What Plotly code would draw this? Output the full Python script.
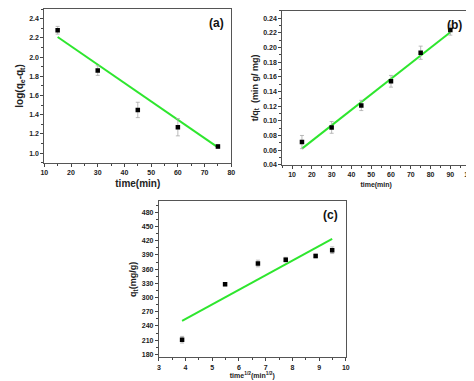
import plotly.graph_objects as go

# Panel (a) pseudo-first-order
a_time = [15, 30, 45, 60, 75]
a_logq = [2.28, 1.86, 1.45, 1.27, 1.07]
a_err = [0.04, 0.05, 0.08, 0.09, 0.02]
a_fit_x = [15, 75]
a_fit_y = [2.21, 1.06]

# Panel (b) pseudo-second-order
b_time = [15, 30, 45, 60, 75, 90]
b_tq = [0.071, 0.091, 0.121, 0.154, 0.193, 0.224]
b_err = [0.009, 0.008, 0.007, 0.008, 0.009, 0.007]
b_fit_x = [15, 90]
b_fit_y = [0.062, 0.221]

# Panel (c) intraparticle diffusion
c_sqrt_t = [3.87, 5.48, 6.71, 7.75, 8.87, 9.49]
c_qt = [211, 328, 372, 380, 388, 400]
c_err = [7, 3, 7, 5, 4, 7]
c_fit_x = [3.87, 9.49]
c_fit_y = [251, 424]

FONT = "Liberation Sans"
GREEN = "#2ee62e"

fig = go.Figure()

def add_panel(xs, ys, err, fx, fy, xa, ya):
    fig.add_trace(go.Scatter(x=fx, y=fy, mode="lines", line=dict(color=GREEN, width=2),
                             xaxis=xa, yaxis=ya, showlegend=False))
    fig.add_trace(go.Scatter(x=xs, y=ys, mode="markers",
                             marker=dict(symbol="square", size=4.5, color="black"),
                             error_y=dict(type="data", array=err, color="#aaaaaa", thickness=0.8, width=2),
                             xaxis=xa, yaxis=ya, showlegend=False))

add_panel(a_time, a_logq, a_err, a_fit_x, a_fit_y, "x", "y")
add_panel(b_time, b_tq, b_err, b_fit_x, b_fit_y, "x2", "y2")
add_panel(c_sqrt_t, c_qt, c_err, c_fit_x, c_fit_y, "x3", "y3")

tickfont = dict(family=FONT, size=7, color="#222", weight="bold")

def axis(domain, rng, dtick, minor_dtick, anchor, title=None, tsize=10, standoff=4, fmt=None):
    d = dict(domain=domain, range=rng, dtick=dtick, tick0=0, ticks="outside", ticklen=3,
             tickwidth=1, tickcolor="#444", showline=True, linecolor="#555", linewidth=1,
             mirror=True, showgrid=False, zeroline=False, tickfont=tickfont, anchor=anchor,
             minor=dict(dtick=minor_dtick, ticks="outside", ticklen=2, tickcolor="#444"))
    if fmt:
        d["tickformat"] = fmt
    if title is not None:
        d["title"] = dict(text=title, font=dict(family=FONT, size=tsize, color="#222", weight="bold"),
                          standoff=standoff)
    return d

fig.update_layout(
    width=474, height=381,
    margin=dict(l=0, r=0, t=0, b=0),
    paper_bgcolor="white", plot_bgcolor="white",
    xaxis=axis([0.0696, 0.4726], [10, 80], 10, 5, "y", "time(min)", 10, 4),
    yaxis=axis([0.5906, 0.997], [0.9, 2.5], 0.2, 0.1, "x", "log(q<sub>e</sub>-q<sub>t</sub>)", 10, 3, ".1f"),
    xaxis2=axis([0.5823, 0.9873], [5, 100], 10, 5, "y2", "time(min)", 7, 4),
    yaxis2=axis([0.5853, 0.9921], [0.04, 0.25], 0.02, 0.01, "x2", "t/q<sub>t</sub>  (min g/ mg)", 9, 3, ".2f"),
    xaxis3=axis([0.3165, 0.7194], [3, 10], 1, 0.5, "y3", "time<sup>1/2</sup>(min<sup>1/2</sup>)", 7, 3),
    yaxis3=axis([0.0761, 0.4882], [174, 503], 30, 15, "x3", "q<sub>t</sub>(mg/g)", 9, 3),
)

for txt, xr, yr in [("(a)", "x domain", "y domain"), ("(b)", "x2 domain", "y2 domain"),
                    ("(c)", "x3 domain", "y3 domain")]:
    fig.add_annotation(text=txt, xref=xr, yref=yr, x=0.97, y=0.97, xanchor="right", yanchor="top",
                       showarrow=False, font=dict(family=FONT, size=12, color="#111", weight="bold"))

fig.write_html("out.html")
